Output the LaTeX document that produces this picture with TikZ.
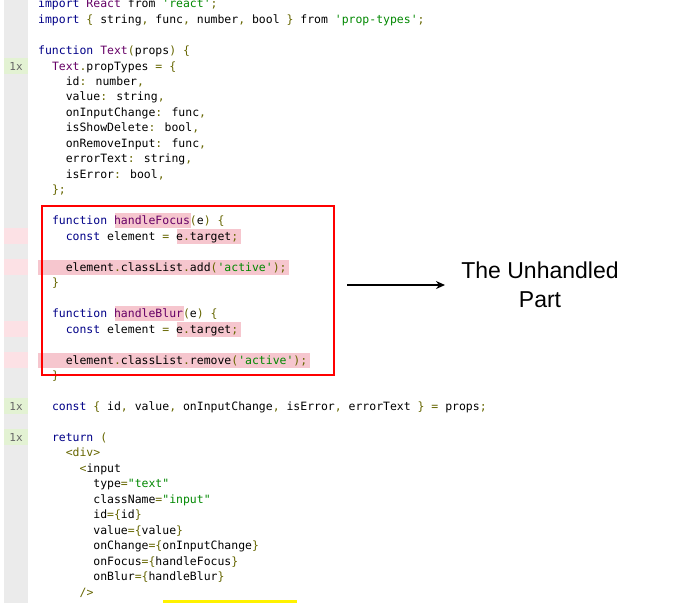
\documentclass[tikz,border=0pt]{standalone}
\usepackage{fontspec}
\setmainfont{Liberation Sans}
\newfontfamily\cf{DejaVu Sans Mono}[Scale=1]
\usetikzlibrary{arrows.meta}
\definecolor{kw}{HTML}{000088}
\definecolor{ty}{HTML}{660066}
\definecolor{st}{HTML}{008800}
\definecolor{pu}{HTML}{666600}
\definecolor{gut}{HTML}{EBEBEB}
\definecolor{gok}{HTML}{E3F2D3}
\definecolor{gno}{HTML}{FCE1E5}
\definecolor{hl}{HTML}{F6C6CE}
\newcommand\K[1]{\textcolor{kw}{#1}}
\newcommand\T[1]{\textcolor{ty}{#1}}
\newcommand\Sq[1]{\textcolor{st}{#1}}
\newcommand\Pu[1]{\textcolor{pu}{#1}}
\newcommand\Cl[3]{\node[codeline] (l#1) at ({38+6.9*#2},{#1+4}) {#3};}
\begin{document}
\begin{tikzpicture}[x=1pt,y=-1pt,
  codeline/.style={anchor=base west,inner sep=0pt,font=\cf\fontsize{11.46}{13}\selectfont},
  gmark/.style={anchor=base,inner sep=0pt,font=\cf\fontsize{11}{13}\selectfont,text=black!60}]
\useasboundingbox (0,0) rectangle (700,603);
\fill[white] (0,0) rectangle (700,603);
\fill[gut] (4,0) rectangle (28,603);
% gutter markers
\foreach \y in {66,406,437}{\fill[gok] (4,\y-7.7) rectangle (28,\y+7.7);}
\foreach \y in {236,267,329,360}{\fill[gno] (4,\y-7.7) rectangle (28,\y+7.7);}
\node[gmark] (m1) at (16,70) {1x};
\node[gmark] (m2) at (16,410) {1x};
\node[gmark] (m3) at (16,441) {1x};
% highlights
\fill[hl] (115,212.5) rectangle (191,227.5);
\fill[hl] (177,228.5) rectangle (241,243.5);
\fill[hl] (38,259.5) rectangle (289,274.5);
\fill[hl] (115,305.5) rectangle (184,320.5);
\fill[hl] (177,321.5) rectangle (241,336.5);
\fill[hl] (38,352.5) rectangle (310,367.5);
\fill[yellow] (163,600) rectangle (297,603);
% code
\Cl{3}{0}{\K{import} \T{React} from \Sq{'react'}\Pu{;}}
\Cl{19}{0}{\K{import} \Pu{\{} string\Pu{,} func\Pu{,} number\Pu{,} bool \Pu{\}} from \Sq{'prop-types'}\Pu{;}}
\Cl{50}{0}{\K{function} \T{Text}\Pu{(}props\Pu{)} \Pu{\{}}
\Cl{66}{2}{\T{Text}\Pu{.}propTypes \Pu{= \{}}
\Cl{81}{4}{id\Pu{:} number\Pu{,}}
\Cl{96}{4}{value\Pu{:} string\Pu{,}}
\Cl{112}{4}{onInputChange\Pu{:} func\Pu{,}}
\Cl{127}{4}{isShowDelete\Pu{:} bool\Pu{,}}
\Cl{143}{4}{onRemoveInput\Pu{:} func\Pu{,}}
\Cl{158}{4}{errorText\Pu{:} string\Pu{,}}
\Cl{174}{4}{isError\Pu{:} bool\Pu{,}}
\Cl{189}{2}{\Pu{\};}}
\Cl{220}{2}{\K{function} \T{handleFocus}\Pu{(}e\Pu{)} \Pu{\{}}
\Cl{236}{4}{\K{const} element \Pu{=} e\Pu{.}target\Pu{;}}
\Cl{267}{4}{element\Pu{.}classList\Pu{.}add\Pu{(}\Sq{'active'}\Pu{);}}
\Cl{282}{2}{\Pu{\}}}
\Cl{313}{2}{\K{function} \T{handleBlur}\Pu{(}e\Pu{)} \Pu{\{}}
\Cl{329}{4}{\K{const} element \Pu{=} e\Pu{.}target\Pu{;}}
\Cl{360}{4}{element\Pu{.}classList\Pu{.}remove\Pu{(}\Sq{'active'}\Pu{);}}
\Cl{375}{2}{\Pu{\}}}
\Cl{406}{2}{\K{const} \Pu{\{} id\Pu{,} value\Pu{,} onInputChange\Pu{,} isError\Pu{,} errorText \Pu{\}} \Pu{=} props\Pu{;}}
\Cl{437}{2}{\K{return} \Pu{(}}
\Cl{452}{4}{\Pu{<div>}}
\Cl{468}{6}{\Pu{<}input}
\Cl{483}{8}{type\Pu{=}\Sq{"text"}}
\Cl{499}{8}{className\Pu{=}\Sq{"input"}}
\Cl{514}{8}{id\Pu{=\{}id\Pu{\}}}
\Cl{530}{8}{value\Pu{=\{}value\Pu{\}}}
\Cl{545}{8}{onChange\Pu{=\{}onInputChange\Pu{\}}}
\Cl{561}{8}{onFocus\Pu{=\{}handleFocus\Pu{\}}}
\Cl{576}{8}{onBlur\Pu{=\{}handleBlur\Pu{\}}}
\Cl{592}{6}{\Pu{/>}}
% box, arrow, label
\node[draw=red,line width=1.6pt,minimum width=292pt,minimum height=169pt,inner sep=0pt] (box) at (188,290.5) {};
\node[align=center,font=\fontsize{23}{29}\selectfont,inner sep=0pt] (lab) at (540,285) {The Unhandled\\Part};
\coordinate (a0) at (347,285);
\coordinate (a1) at (445,285);
\draw[line width=1.5pt,-{Stealth[length=9pt,width=8pt]}] (a0) -- (a1);
\end{tikzpicture}
\end{document}
